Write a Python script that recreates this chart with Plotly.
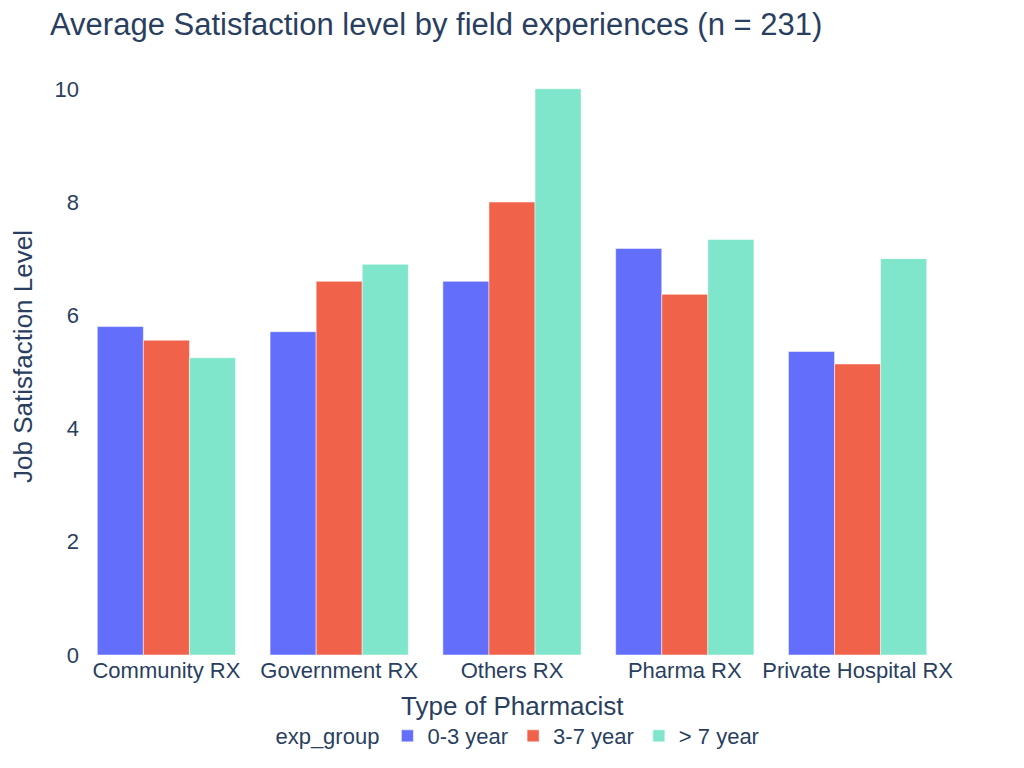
import plotly.graph_objects as go

categories = ["Community RX", "Government RX", "Others RX", "Pharma RX", "Private Hospital RX"]
groups = ["0-3 year", "3-7 year", "> 7 year"]
vals_0_3 = [5.80, 5.71, 6.60, 7.18, 5.36]
vals_3_7 = [5.56, 6.60, 8.00, 6.37, 5.14]
vals_7p = [5.25, 6.90, 10.00, 7.34, 7.00]
colors = ["#636EFA", "#F0634A", "#7FE5CB"]
x_title = "Type of Pharmacist"
y_title = "Job Satisfaction Level"

fig = go.Figure()
for name, vals, col in zip(groups, [vals_0_3, vals_3_7, vals_7p], colors):
    fig.add_trace(go.Bar(
        x=categories, y=vals, name=name,
        marker=dict(color=col, line=dict(color="white", width=0.5)),
    ))

fig.update_layout(
    template="plotly_white",
    width=1024, height=768,
    barmode="group",
    bargap=0.2,
    font=dict(family="Arial, Liberation Sans, sans-serif", size=22, color="#2a3f5f"),
    title=dict(text="Average Satisfaction level by field experiences (n = 231)",
               xref="container", x=0.041, xanchor="left",
               yref="container", y=0.979, yanchor="middle", font=dict(size=31)),
    margin=dict(l=72, r=88, t=51, b=121, autoexpand=False),
    xaxis=dict(showgrid=False, zeroline=False, showline=False, automargin=False),
    yaxis=dict(showgrid=False, zeroline=False, showline=False, automargin=False),
    legend=dict(orientation="h", title=dict(text="exp_group", font=dict(size=22)),
                x=0.508, xanchor="center", yref="container", y=0.052, yanchor="middle",
                font=dict(size=22)),
    annotations=[
        dict(text=x_title, xref="paper", yref="paper", x=0.5, y=0,
             xanchor="center", yanchor="middle", yshift=-51, showarrow=False,
             font=dict(size=26)),
        dict(text=y_title, xref="paper", yref="paper", x=0, y=0.5,
             xanchor="center", yanchor="middle", xshift=-57, textangle=-90,
             showarrow=False, font=dict(size=26)),
    ],
)

fig.write_html("out.html")
